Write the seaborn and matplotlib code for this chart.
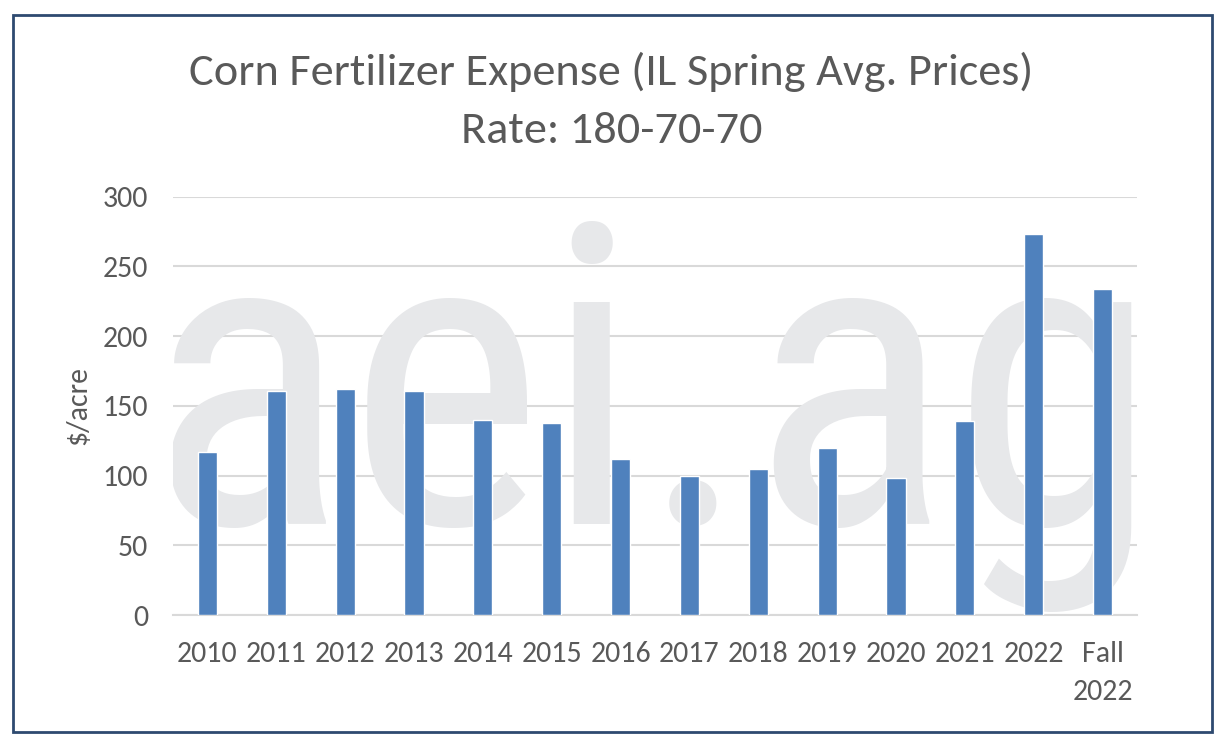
import matplotlib
matplotlib.use("Agg")
import matplotlib.pyplot as plt
import seaborn as sns
import pandas as pd
from matplotlib.patches import Rectangle

categories = ["2010", "2011", "2012", "2013", "2014", "2015", "2016",
              "2017", "2018", "2019", "2020", "2021", "2022", "Fall\n2022"]
values = [117, 161, 162, 161, 140, 138, 112, 100, 105, 120, 98, 139, 273, 234]
y_ticks = [0, 50, 100, 150, 200, 250, 300]

title_text = "Corn Fertilizer Expense (IL Spring Avg. Prices)\nRate: 180-70-70"
y_label = "$/acre"
watermark = "aei.ag"

sns.set_theme(style="white")
plt.rcParams['font.family'] = ['Carlito', 'Open Sans', 'DejaVu Sans']

fig = plt.figure(figsize=(12.3, 7.44), dpi=100)
ax = fig.add_axes([173/1230, 1-615/744, (1137-173)/1230, (615-196.7)/744])

df = pd.DataFrame({"cat": categories, "val": values})
sns.barplot(data=df, x="cat", y="val", color="#4F81BD", saturation=1,
            width=0.28, ax=ax, zorder=3)

ax.set_ylim(0, 300)
ax.set_xlim(-0.5, len(categories) - 0.5)
ax.set_yticks(y_ticks)
ax.yaxis.grid(True, color="#D9D9D9", linewidth=1.5, zorder=0)
ax.set_axisbelow(True)
for s in ["top", "right", "left"]:
    ax.spines[s].set_visible(False)
ax.spines["bottom"].set_color("#D9D9D9")
ax.spines["bottom"].set_linewidth(1.5)
ax.tick_params(axis="both", length=0, labelsize=21.5, labelcolor="#595959")
ax.tick_params(axis="y", pad=18)
ax.tick_params(axis="x", pad=19)
for lbl in ax.get_xticklabels():
    lbl.set_linespacing(1.55)
ax.set_xlabel("")
ax.set_ylabel(y_label, fontsize=21.5, color="#595959", labelpad=8)

# watermark
ax.text(-0.027, 65, watermark, transform=ax.get_yaxis_transform(),
        fontsize=302, family=['Roboto Condensed', 'IBM Plex Sans Condensed', 'Open Sans Condensed'],
        fontweight=400, color="#E7E8EA",
        ha="left", va="baseline", zorder=1, clip_on=True)

fig.text(0.497, 1-101/744, title_text, ha="center", va="center",
         fontsize=33.3, color="#595959", linespacing=1.65)

fig.patches.append(Rectangle((13/1230, 1-732/744), (1212-13)/1230, (732-15)/744,
                             transform=fig.transFigure, fill=False,
                             edgecolor="#2E4A70", linewidth=2))

fig.savefig("out.png", dpi=100)
